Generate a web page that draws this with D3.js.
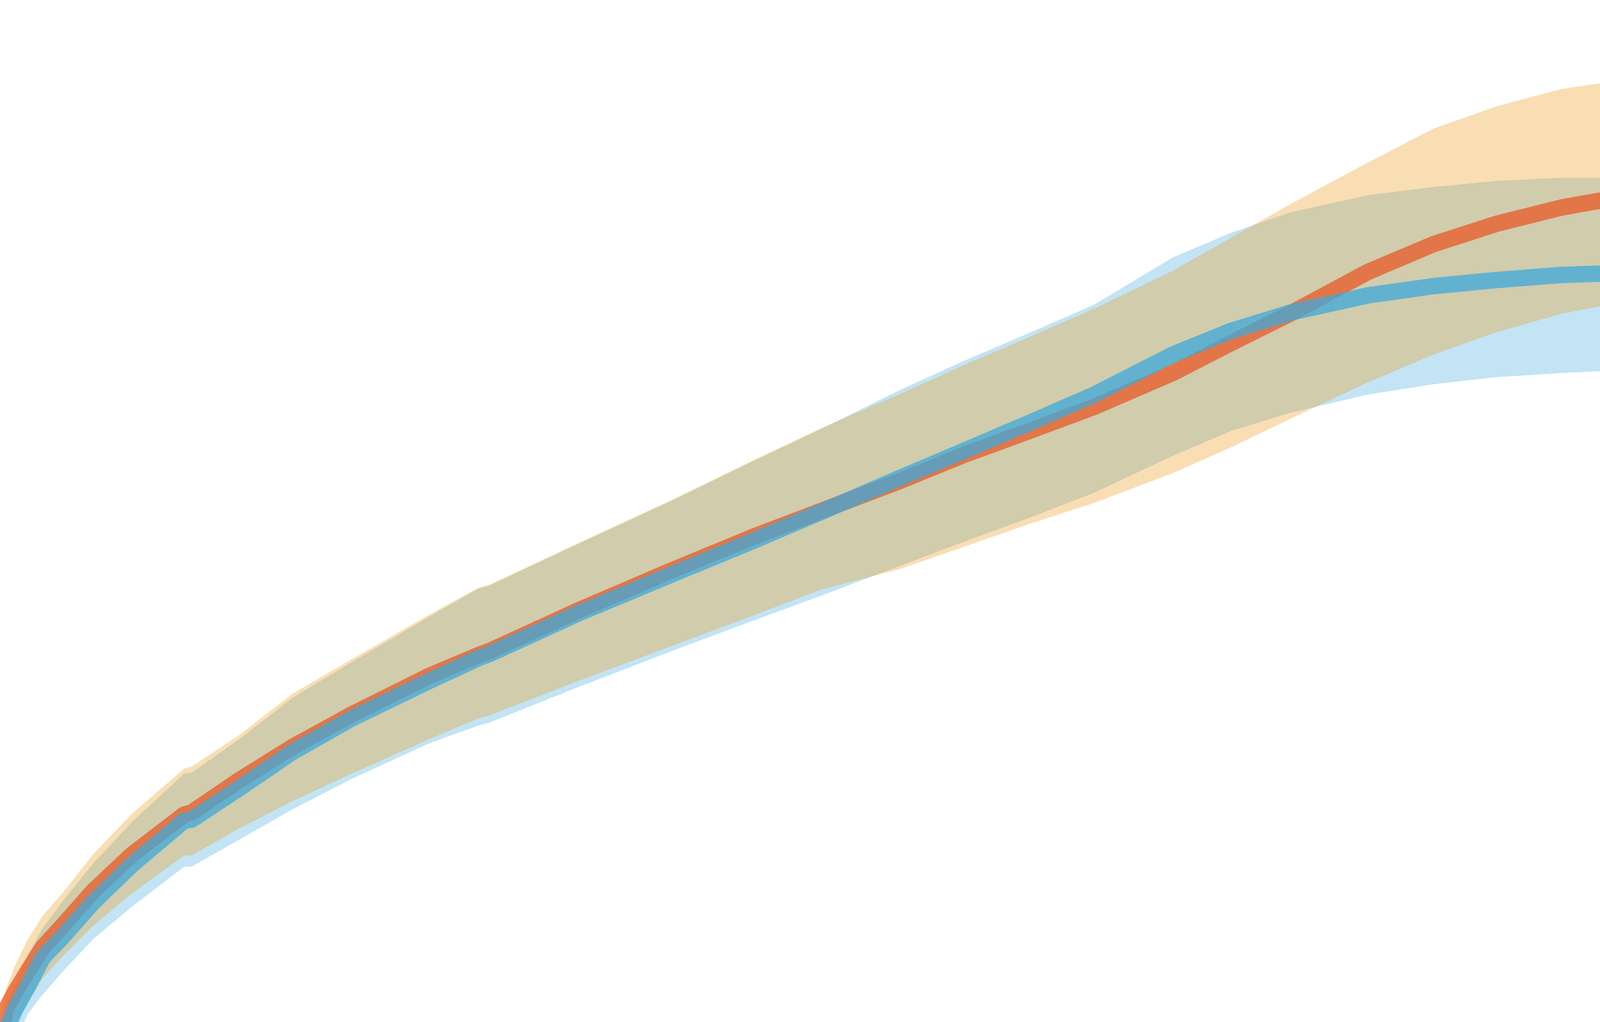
<!DOCTYPE html>
<html>
<head>
<meta charset="utf-8">
<script src="https://cdn.jsdelivr.net/npm/d3@7"></script>
<style>
  html, body { margin: 0; padding: 0; background: #fff; overflow: hidden; }
  svg { display: block; }
</style>
</head>
<body>
<svg id="chart"></svg>
<script>
// x positions of the samples (0..100 across the plot)
const xs = [0, 0.3, 0.8, 1.5, 2.3, 3.4, 5.0, 7.1, 9.9, 10.3, 12.8, 15.7, 18.9, 23.1, 25.7, 26.3,
  31.1, 36.1, 40.5, 44.1, 48.3, 51.8, 55.4, 58.8, 63.0, 66.1, 69.3, 73.5, 77.0, 80.4, 83.9,
  87.3, 90.9, 94.4, 100]

// orange series: mean line and band
const orangeMean = [-1.3, 1.2, 2.9, 5.0, 7.3, 9.5, 12.8, 16.4, 20.3, 20.5, 23.6, 26.9, 30.1, 33.9, 35.9, 36.3,
  40.3, 44.2, 47.5, 50.0, 52.9, 55.5, 57.9, 60.2, 63.5, 66.4, 69.3, 73.4, 76.1, 78.1, 79.7,
  80.8, 81.8, 82.3, 82.8]
const orangeUpper = [0.5, 3.1, 5.5, 8.1, 10.4, 12.7, 16.4, 20.4, 24.8, 25.0, 28.0, 32.1, 35.5, 39.9, 42.5, 42.8,
  46.9, 51.1, 55.0, 58.1, 61.4, 64.3, 67.1, 69.8, 73.5, 76.7, 80.0, 84.1, 87.4, 89.6, 91.3,
  92.2, 92.7, 92.9, 93.0]
const orangeLower = [-3.2, -1.6, -0.3, 1.9, 4.3, 6.5, 9.4, 12.6, 16.3, 16.3, 18.9, 21.6, 24.3, 27.7, 29.7, 30.0,
  33.4, 36.8, 39.8, 42.3, 44.3, 46.5, 48.8, 50.8, 53.7, 56.2, 59.0, 62.6, 65.3, 67.5, 69.3,
  70.5, 71.3, 71.9, 72.5]

// blue series: mean line and band
const blueMean = [-2.4, -0.9, 1.2, 3.5, 6.3, 8.4, 11.7, 15.4, 19.7, 19.8, 22.8, 26.4, 29.7, 33.4, 35.6, 36.0,
  40.0, 43.8, 47.1, 49.9, 53.2, 55.9, 58.7, 61.4, 65.3, 67.6, 69.4, 71.1, 72.0, 72.6, 73.1,
  73.3, 73.3, 73.4, 73.5]
const blueUpper = [-0.9, 1.4, 3.7, 6.6, 9.2, 11.9, 15.5, 19.6, 24.3, 24.4, 27.6, 31.7, 35.2, 39.7, 42.4, 42.7,
  46.8, 51.0, 54.9, 58.0, 61.8, 64.7, 67.5, 70.2, 74.8, 77.2, 79.2, 80.9, 81.7, 82.3, 82.6,
  82.6, 82.6, 82.7, 82.7]
const blueLower = [-5.5, -3.9, -2.0, 0.8, 2.7, 5.0, 8.1, 11.3, 15.2, 15.2, 17.8, 20.8, 23.8, 27.3, 29.0, 29.3,
  32.8, 36.3, 39.3, 41.7, 44.6, 47.0, 49.4, 51.8, 55.4, 57.8, 59.6, 61.4, 62.4, 63.1, 63.5,
  63.8, 64.0, 64.2, 64.3]

const width = 5000
const height = 2617

const svg = d3.select('#chart').attr('width', width).attr('height', height)
svg.append('rect').attr('width', width).attr('height', height).attr('fill', '#fff')

const x = d3.scaleLinear().domain([0, 100]).range([0, 4765])
const y = d3.scaleLinear().domain([0, 100]).range([height, 0])

function rows(mean, lo, hi) {
  return xs.map((v, i) => ({ x: v, m: mean[i], lo: lo[i], hi: hi[i] }))
}
const orange = rows(orangeMean, orangeLower, orangeUpper)
const blue = rows(blueMean, blueLower, blueUpper)

const band = d3.area().x(d => x(d.x)).y0(d => y(d.lo)).y1(d => y(d.hi))
const line = d3.line().x(d => x(d.x)).y(d => y(d.m))

// bands first (blue under orange), then the two mean lines
svg.append('path').datum(blue).attr('d', band)
  .attr('fill', '#66bbe3').attr('fill-opacity', 0.4)
svg.append('path').datum(orange).attr('d', band)
  .attr('fill', '#ed9b1c').attr('fill-opacity', 0.33)

svg.append('path').datum(orange).attr('d', line)
  .attr('fill', 'none').attr('stroke', '#e85927').attr('stroke-opacity', 0.75)
  .attr('stroke-width', 42).attr('stroke-linejoin', 'round')
svg.append('path').datum(blue).attr('d', line)
  .attr('fill', 'none').attr('stroke', '#3da9db').attr('stroke-opacity', 0.75)
  .attr('stroke-width', 42).attr('stroke-linejoin', 'round')
</script>
</body>
</html>
